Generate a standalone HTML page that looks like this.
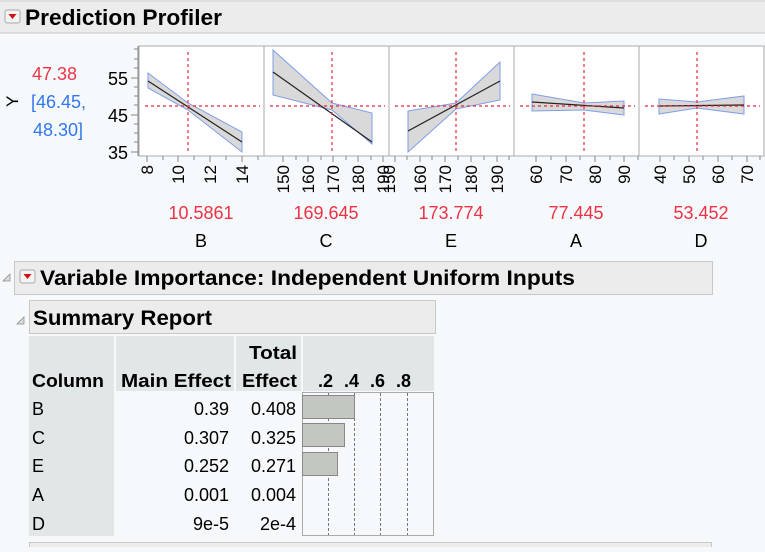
<!DOCTYPE html>
<html><head><meta charset="utf-8"><style>
body{margin:0;width:765px;height:547px;overflow:hidden;background:#f5f9fc;font-family:"Liberation Sans",sans-serif}
</style></head><body>
<svg width="765" height="547" xmlns="http://www.w3.org/2000/svg" font-family="Liberation Sans, sans-serif">
<rect width="765" height="547" fill="#f5f9fc"/>
<rect x="0" y="0" width="765" height="33" fill="#ececec"/>
<line x1="0" y1="33" x2="765" y2="33" stroke="#c8c8c8"/>
<line x1="0" y1="1" x2="765" y2="1" stroke="#cfcfcf"/>
<rect x="5" y="10" width="15" height="13" rx="2" fill="#f3f3f3" stroke="#aaa"/>
<path d="M8.5 14 L16.5 14 L12.5 19 Z" fill="#d01010"/>
<text x="25" y="25" font-size="22" font-weight="bold" fill="#000" textLength="197" lengthAdjust="spacingAndGlyphs">Prediction Profiler</text>
<text x="32" y="80" font-size="18" fill="#ee3344">47.38</text>
<text x="31" y="108" font-size="18" fill="#3377ee">[46.45,</text>
<text x="33" y="136" font-size="18" fill="#3377ee">48.30]</text>
<text x="7" y="108" font-size="17" transform="rotate(-90 12 102)" fill="#000">Y</text>
<g stroke="#888">
<line x1="138" y1="46" x2="138" y2="156"/>
<line x1="131" y1="78" x2="138" y2="78"/><line x1="131" y1="115" x2="138" y2="115"/><line x1="131" y1="152" x2="138" y2="152"/>
<line x1="134" y1="59" x2="138" y2="59"/><line x1="134" y1="96" x2="138" y2="96"/><line x1="134" y1="133" x2="138" y2="133"/><line x1="134" y1="49" x2="138" y2="49"/><line x1="134" y1="68" x2="138" y2="68"/><line x1="134" y1="87" x2="138" y2="87"/><line x1="134" y1="105" x2="138" y2="105"/><line x1="134" y1="124" x2="138" y2="124"/><line x1="134" y1="142" x2="138" y2="142"/>
</g>
<g font-size="18" text-anchor="end" fill="#000">
<text x="128" y="85">55</text><text x="128" y="122">45</text><text x="128" y="159">35</text>
</g>
<rect x="139" y="46" width="625" height="110" fill="#fff" stroke="#aaa"/>
<g stroke="#aaa"><line x1="264" y1="46" x2="264" y2="156"/><line x1="389" y1="46" x2="389" y2="156"/><line x1="514" y1="46" x2="514" y2="156"/><line x1="639" y1="46" x2="639" y2="156"/></g>
<g fill="#d9d9d9" stroke="#7f9ee8" stroke-width="1">
<path d="M148 73 L188 103 L242 132 L242 152 L188 110 L148 88 Z"/>
<path d="M273 50 L332 103 L372 113 L372 144 L332 110 L273 95 Z"/>
<path d="M408 111 L456 103 L500 62 L500 100 L456 109 L408 152 Z"/>
<path d="M532 94 L584 103 L624 101 L624 115 L584 110 L532 111 Z"/>
<path d="M659 99 L697 102 L744 96 L744 114 L697 108 L659 114 Z"/>
</g>
<g stroke="#222" stroke-width="1.2">
<line x1="148" y1="81" x2="242" y2="142"/>
<line x1="273" y1="72" x2="372" y2="142"/>
<line x1="408" y1="131" x2="500" y2="81"/>
<line x1="532" y1="102" x2="624" y2="108"/>
<line x1="659" y1="106" x2="744" y2="105"/>
</g>
<g stroke="#e8283c" stroke-width="1.2" stroke-dasharray="3,3">
<line x1="145" y1="106" x2="260" y2="106"/><line x1="270" y1="106" x2="385" y2="106"/><line x1="395" y1="106" x2="510" y2="106"/><line x1="520" y1="106" x2="635" y2="106"/><line x1="645" y1="106" x2="760" y2="106"/>
<line x1="188" y1="52" x2="188" y2="152"/><line x1="332" y1="52" x2="332" y2="152"/><line x1="456" y1="52" x2="456" y2="152"/><line x1="584" y1="52" x2="584" y2="152"/><line x1="697" y1="52" x2="697" y2="152"/>
</g>
<g stroke="#888">
<path d="M147 156v6M163 156v4M178 156v6M194 156v4M210 156v6M226 156v4M242 156v6M258 156v4
M283 156v6M296 156v4M308 156v6M321 156v4M333 156v6M346 156v4M358 156v6M371 156v4M383 156v6
M395 156v6M407 156v4M420 156v6M432 156v4M445 156v6M458 156v4M471 156v6M484 156v4M497 156v6M509 156v4
M536 156v6M551 156v4M566 156v6M580 156v4M595 156v6M610 156v4M624 156v6M638 156v4
M660 156v6M674 156v4M689 156v6M703 156v4M718 156v6M732 156v4M747 156v6M760 156v4"/>
</g>
<g font-size="17" text-anchor="end" fill="#000">
<text transform="translate(153 165) rotate(-90)">8</text>
<text transform="translate(184 165) rotate(-90)">10</text>
<text transform="translate(216 165) rotate(-90)">12</text>
<text transform="translate(248 165) rotate(-90)">14</text>
<text transform="translate(289 165) rotate(-90)">150</text>
<text transform="translate(314 165) rotate(-90)">160</text>
<text transform="translate(339 165) rotate(-90)">170</text>
<text transform="translate(364 165) rotate(-90)">180</text>
<text transform="translate(389 165) rotate(-90)">190</text>
<text transform="translate(395 165) rotate(-90)">150</text>
<text transform="translate(426 165) rotate(-90)">160</text>
<text transform="translate(451 165) rotate(-90)">170</text>
<text transform="translate(477 165) rotate(-90)">180</text>
<text transform="translate(503 165) rotate(-90)">190</text>
<text transform="translate(542 165) rotate(-90)">60</text>
<text transform="translate(572 165) rotate(-90)">70</text>
<text transform="translate(601 165) rotate(-90)">80</text>
<text transform="translate(630 165) rotate(-90)">90</text>
<text transform="translate(666 165) rotate(-90)">40</text>
<text transform="translate(695 165) rotate(-90)">50</text>
<text transform="translate(724 165) rotate(-90)">60</text>
<text transform="translate(753 165) rotate(-90)">70</text>
</g>
<g font-size="18" text-anchor="middle" fill="#ee3344">
<text x="201" y="219">10.5861</text><text x="326" y="219">169.645</text><text x="451" y="219">173.774</text><text x="576" y="219">77.445</text><text x="701" y="219">53.452</text>
</g>
<g font-size="18" text-anchor="middle" fill="#000">
<text x="201" y="247">B</text><text x="326" y="247">C</text><text x="451" y="247">E</text><text x="576" y="247">A</text><text x="701" y="247">D</text>
</g>
<path d="M3 281 L10 274 L10 281 Z" fill="#ddd" stroke="#888" stroke-width="0.7"/>
<rect x="14.5" y="261.5" width="698" height="33" fill="#ececec" stroke="#c8c8c8"/>
<rect x="20" y="270" width="15" height="13" rx="2" fill="#f3f3f3" stroke="#aaa"/>
<path d="M23.5 274 L31.5 274 L27.5 279 Z" fill="#d01010"/>
<text x="40" y="285" font-size="21" font-weight="bold" textLength="535" lengthAdjust="spacingAndGlyphs">Variable Importance: Independent Uniform Inputs</text>
<path d="M17 324 L24 317 L24 324 Z" fill="#ddd" stroke="#888" stroke-width="0.7"/>
<rect x="29.5" y="300.5" width="406" height="33" fill="#ececec" stroke="#c8c8c8"/>
<text x="33" y="325" font-size="21" font-weight="bold" textLength="179" lengthAdjust="spacingAndGlyphs">Summary Report</text>
<rect x="29" y="336" width="85" height="200" fill="#e1e6e7"/>
<rect x="116" y="336" width="118" height="55" fill="#e1e6e7"/>
<rect x="236" y="336" width="65" height="55" fill="#e1e6e7"/>
<rect x="303" y="336" width="131" height="55" fill="#e1e6e7"/>
<g font-size="18" font-weight="bold" fill="#000">
<text x="32" y="387" textLength="72" lengthAdjust="spacingAndGlyphs">Column</text>
<text x="121" y="387" textLength="110" lengthAdjust="spacingAndGlyphs">Main Effect</text>
<text x="249" y="359" textLength="48" lengthAdjust="spacingAndGlyphs">Total</text>
<text x="242" y="387" textLength="55" lengthAdjust="spacingAndGlyphs">Effect</text>
<text x="318" y="387">.2</text><text x="344" y="387">.4</text><text x="370" y="387">.6</text><text x="396" y="387">.8</text>
</g>
<g font-size="18" fill="#000">
<text x="32" y="415">B</text><text x="32" y="444">C</text><text x="32" y="472">E</text><text x="32" y="501">A</text><text x="32" y="530">D</text>
</g>
<g font-size="18" fill="#000" text-anchor="end">
<text x="229" y="415">0.39</text><text x="229" y="444">0.307</text><text x="229" y="472">0.252</text><text x="229" y="501">0.001</text><text x="229" y="530">9e-5</text>
<text x="296" y="415">0.408</text><text x="296" y="444">0.325</text><text x="296" y="472">0.271</text><text x="296" y="501">0.004</text><text x="296" y="530">2e-4</text>
</g>
<rect x="302.5" y="392.5" width="131" height="143" fill="#f5f9fc" stroke="#aaa"/>
<g stroke="#777" stroke-dasharray="3,2"><line x1="328.5" y1="393" x2="328.5" y2="535"/><line x1="354.5" y1="393" x2="354.5" y2="535"/><line x1="380.5" y1="393" x2="380.5" y2="535"/><line x1="407.5" y1="393" x2="407.5" y2="535"/></g>
<g fill="#c3c7c1" stroke="#888">
<rect x="302.5" y="395.5" width="52" height="23"/>
<rect x="302.5" y="423.5" width="42" height="23"/>
<rect x="302.5" y="452.5" width="35" height="23"/>
</g>
<rect x="29.5" y="542.5" width="682" height="10" fill="#ececec" stroke="#c8c8c8"/>
</svg>
</body></html>
